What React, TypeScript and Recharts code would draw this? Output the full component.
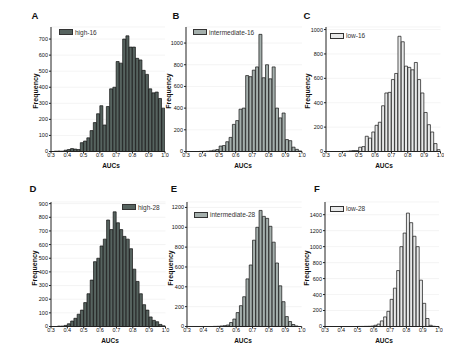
import { BarChart, Bar, XAxis, YAxis, CartesianGrid, Legend } from "recharts";

// bin centres (width 0.02) shared by all six histograms
const aucBins = [
    0.31, 0.33, 0.35, 0.37, 0.39, 0.41, 0.43, 0.45, 0.47, 0.49, 0.51, 0.53,
    0.55, 0.57, 0.59, 0.61, 0.63, 0.65, 0.67, 0.69, 0.71, 0.73, 0.75, 0.77,
    0.79, 0.81, 0.83, 0.85, 0.87, 0.89, 0.91, 0.93, 0.95, 0.97, 0.99,
];
const aucTicks = [0.3, 0.4, 0.5, 0.6, 0.7, 0.8, 0.9, 1.0];

const high16 = [
    0, 2, 3, 2, 8, 12, 18, 15, 12, 55, 65, 85, 130, 180, 235, 285, 165, 280,
    390, 400, 560, 550, 700, 720, 650, 650, 580, 570, 505, 480, 390, 365, 370,
    330, 270,
];
const intermediate16 = [
    0, 0, 0, 0, 1, 2, 3, 6, 12, 18, 50, 55, 90, 130, 250, 285, 390, 400, 700,
    690, 750, 780, 1080, 680, 800, 670, 780, 400, 310, 355, 110, 100, 40, 20, 5,
];
const low16 = [
    0, 0, 0, 0, 0, 1, 2, 5, 8, 8, 35, 40, 125, 110, 160, 215, 240, 375, 480,
    485, 590, 640, 945, 900, 700, 690, 670, 730, 590, 480, 320, 220, 160, 65, 15,
];
const high28 = [
    0, 0, 3, 3, 8, 20, 40, 60, 90, 120, 175, 240, 340, 475, 500, 590, 640, 780,
    710, 840, 760, 710, 660, 640, 570, 420, 330, 240, 160, 120, 70, 45, 35, 15, 5,
];
const intermediate28 = [
    0, 0, 0, 0, 0, 0, 0, 0, 1, 2, 5, 8, 15, 40, 75, 140, 210, 300, 480, 620,
    870, 1000, 1170, 1110, 1090, 1010, 850, 640, 410, 250, 100, 50, 20, 5, 0,
];
const low28 = [
    0, 0, 0, 0, 0, 0, 0, 0, 0, 0, 1, 1, 2, 3, 5, 15, 30, 70, 120, 190, 340, 480,
    700, 1000, 1170, 1420, 1300, 1130, 1000, 580, 290, 100, 15, 3, 0,
];

const DARK = "#56635f";
const MID = "#a4afac";
const LIGHT = "#e8e9e9";
const FONT = "'Liberation Sans', Arial, sans-serif";

const panels = [
    { id: "A", name: "high-16", values: high16, fill: DARK, yMax: 775, yTicks: [0, 100, 200, 300, 400, 500, 600, 700], plot: { left: 51, right: 165, top: 27, bottom: 151.5 }, legend: { x: 59, y: 32 }, letter: { x: 35, y: 15 }, freq: { x: 35, y: 91 }, auc: { x: 111, y: 165 } },
    { id: "B", name: "intermediate-16", values: intermediate16, fill: MID, yMax: 1148, yTicks: [0, 200, 400, 600, 800, 1000], plot: { left: 186, right: 302, top: 27, bottom: 151.5 }, legend: { x: 193, y: 32 }, letter: { x: 176, y: 15 }, freq: { x: 168, y: 91 }, auc: { x: 243, y: 165 } },
    { id: "C", name: "low-16", values: low16, fill: LIGHT, yMax: 1021, yTicks: [0, 200, 400, 600, 800, 1000], plot: { left: 325.5, right: 440, top: 27, bottom: 151.5 }, legend: { x: 330, y: 35.5 }, letter: { x: 307, y: 15 }, freq: { x: 307, y: 91 }, auc: { x: 384, y: 165 } },
    { id: "D", name: "high-28", values: high28, fill: DARK, yMax: 912, yTicks: [0, 100, 200, 300, 400, 500, 600, 700, 800, 900], plot: { left: 51, right: 165.5, top: 202, bottom: 326.5 }, legend: { x: 122, y: 207.3 }, letter: { x: 33, y: 188 }, freq: { x: 34, y: 268 }, auc: { x: 110, y: 340 } },
    { id: "E", name: "intermediate-28", values: intermediate28, fill: MID, yMax: 1255, yTicks: [0, 200, 400, 600, 800, 1000, 1200], plot: { left: 187, right: 301.7, top: 202, bottom: 326.5 }, legend: { x: 194, y: 214.7 }, letter: { x: 174, y: 188 }, freq: { x: 170, y: 268 }, auc: { x: 243, y: 340 } },
    { id: "F", name: "low-28", values: low28, fill: LIGHT, yMax: 1559, yTicks: [0, 200, 400, 600, 800, 1000, 1200, 1400], plot: { left: 324.5, right: 438.5, top: 202, bottom: 326.5 }, legend: { x: 330, y: 208.5 }, letter: { x: 317, y: 188 }, freq: { x: 306, y: 268 }, auc: { x: 384, y: 340 } },
];

const Y_AXIS_W = 40;
const X_AXIS_H = 22;
const PAD = 4;

const HistPanel = ({ panel }: { panel: (typeof panels)[number] }) => {
    const data = aucBins.map((x, i) => ({ x, count: panel.values[i] }));
    const chartLeft = panel.plot.left - Y_AXIS_W;
    const chartTop = panel.plot.top - PAD;
    const width = panel.plot.right + PAD - chartLeft;
    const height = panel.plot.bottom + X_AXIS_H - chartTop;
    const tickStyle = { fontSize: 5.5, fill: "#111", fontFamily: FONT };

    return (
        <div style={{ position: "absolute", left: chartLeft, top: chartTop }}>
            <BarChart
                width={width}
                height={height}
                data={data}
                margin={{ top: PAD, right: PAD, left: 0, bottom: 0 }}
                barCategoryGap={0}
                barGap={0}
            >
                <CartesianGrid vertical={false} stroke="#ececec" strokeWidth={0.6} />
                <XAxis
                    dataKey="x"
                    type="number"
                    domain={[0.3, 1.0]}
                    ticks={aucTicks}
                    interval={0}
                    tickFormatter={(v: number) => v.toFixed(1)}
                    height={X_AXIS_H}
                    tickSize={2}
                    tickMargin={0}
                    tick={tickStyle}
                    stroke="#222"
                    allowDataOverflow
                />
                <YAxis
                    type="number"
                    domain={[0, panel.yMax]}
                    ticks={panel.yTicks}
                    interval={0}
                    width={Y_AXIS_W}
                    tickSize={2}
                    tickMargin={1}
                    tick={tickStyle}
                    stroke="#222"
                    allowDataOverflow
                />
                <Bar
                    dataKey="count"
                    name={panel.name}
                    fill={panel.fill}
                    stroke="#111"
                    strokeWidth={0.7}
                    isAnimationActive={false}
                />
                <Legend
                    layout="horizontal"
                    verticalAlign="middle"
                    align="center"
                    wrapperStyle={{
                        left: panel.legend.x - chartLeft,
                        top: panel.legend.y - 3.5 - chartTop,
                        width: "auto",
                        height: 7,
                    }}
                    content={() => (
                        <div
                            style={{
                                display: "flex",
                                alignItems: "center",
                                height: 7,
                                fontFamily: FONT,
                                fontSize: 6.5,
                                color: "#333",
                                whiteSpace: "nowrap",
                            }}
                        >
                            <span
                                style={{
                                    display: "inline-block",
                                    width: 12,
                                    height: 4,
                                    background: panel.fill,
                                    border: "0.8px solid #333",
                                    marginRight: 2,
                                }}
                            />
                            <span>{panel.name}</span>
                        </div>
                    )}
                />
            </BarChart>
        </div>
    );
};

export default function App() {
    return (
        <div
            style={{
                position: "absolute",
                left: 0,
                top: 0,
                width: 474,
                height: 351,
                background: "#fff",
                overflow: "hidden",
            }}
        >
            {panels.map((p) => (
                <HistPanel key={p.id} panel={p} />
            ))}
            <svg
                width={474}
                height={351}
                style={{ position: "absolute", left: 0, top: 0, pointerEvents: "none" }}
                fontFamily={FONT}
                fill="#111"
            >
                {panels.map((p) => (
                    <g key={p.id}>
                        <text x={p.letter.x} y={p.letter.y} fontSize={9.5} fontWeight="bold" textAnchor="middle" dominantBaseline="central">
                            {p.id}
                        </text>
                        <text
                            x={p.freq.x}
                            y={p.freq.y}
                            fontSize={7}
                            fontWeight="bold"
                            textAnchor="middle"
                            dominantBaseline="central"
                            transform={`rotate(-90 ${p.freq.x} ${p.freq.y})`}
                        >
                            Frequency
                        </text>
                        <text x={p.auc.x} y={p.auc.y} fontSize={6.5} fontWeight="bold" textAnchor="middle" dominantBaseline="central">
                            AUCs
                        </text>
                    </g>
                ))}
            </svg>
        </div>
    );
}
